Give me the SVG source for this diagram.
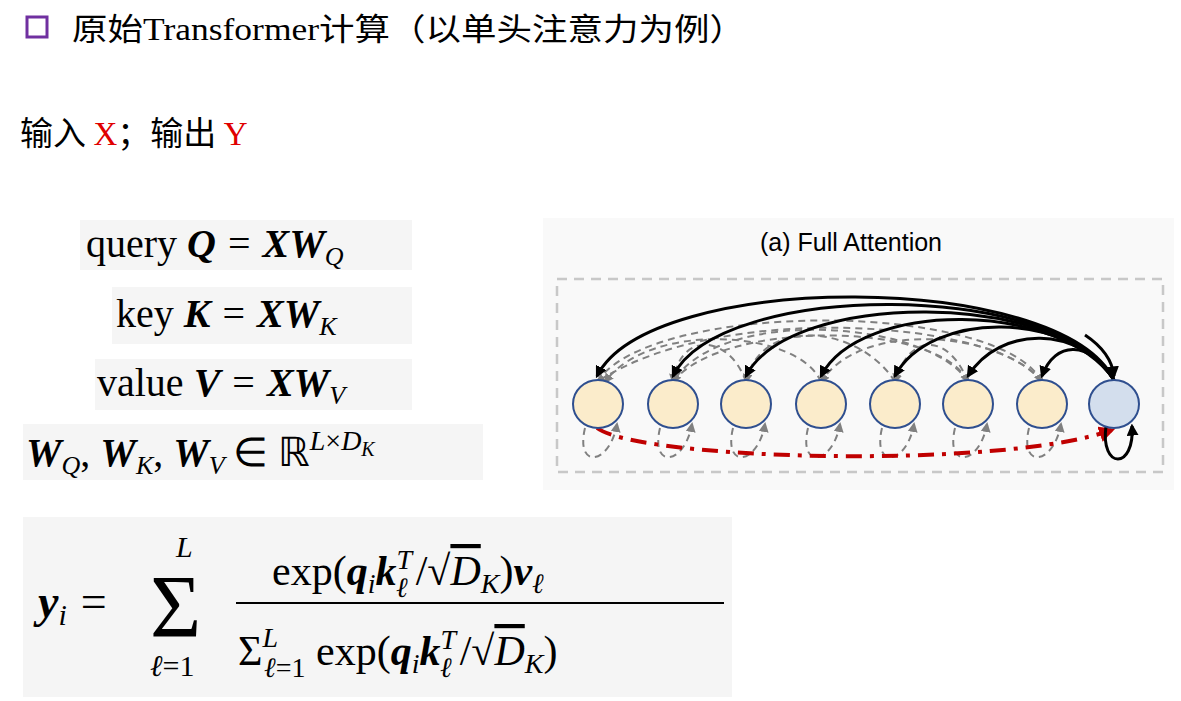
<svg xmlns="http://www.w3.org/2000/svg" width="1181" height="701" viewBox="0 0 1181 701">
<defs>
<style>
.cn{font-family:"Noto Sans CJK SC","Liberation Sans",sans-serif;font-size:31px;fill:#000}
.m{font-family:"Liberation Serif",serif;font-size:40px;fill:#000}
.bi{font-style:italic;font-weight:bold}
.it{font-style:italic}
.bg{fill:#f5f5f5}
.node{fill:#fbeccb;stroke:#2f4f8f;stroke-width:2}
.blk{fill:none;stroke:#000;stroke-width:3}
.gry{fill:none;stroke:#808080;stroke-width:2;stroke-dasharray:7 5}
</style>
<marker id="ab" viewBox="0 0 10 10" refX="8" refY="5" markerWidth="4" markerHeight="4" orient="auto"><path d="M0,0L10,5L0,10z" fill="#000"/></marker>
<marker id="ag" viewBox="0 0 10 10" refX="8" refY="5" markerWidth="5" markerHeight="5" orient="auto"><path d="M0,0L10,5L0,10z" fill="#808080"/></marker>
<marker id="ar" viewBox="0 0 10 10" refX="8" refY="5" markerWidth="4" markerHeight="4" orient="auto"><path d="M0,0L10,5L0,10z" fill="#c00000"/></marker>
</defs>
<rect width="1181" height="701" fill="#fff"/>
<rect x="27" y="17" width="20" height="20" fill="none" stroke="#7030a0" stroke-width="3"/>
<text x="72" y="40" class="cn" textLength="673" lengthAdjust="spacingAndGlyphs">原始<tspan font-family="Liberation Serif">Transformer</tspan>计算（以单头注意力为例）</text>
<text x="20" y="145" class="cn" style="font-size:33px">输入 <tspan fill="#e00000" font-family="Liberation Serif">X</tspan>；输出 <tspan fill="#e00000" font-family="Liberation Serif">Y</tspan></text>

<g id="eqs">
<rect x="80" y="220" width="332" height="50" class="bg"/>
<text x="86" y="257" class="m">query <tspan class="bi">Q</tspan><tspan dx="12">=</tspan><tspan class="bi" dx="12">XW</tspan><tspan class="it" font-size="26" dy="8">Q</tspan></text>
<rect x="112" y="287" width="300" height="57" class="bg"/>
<text x="116" y="327" class="m">key <tspan class="bi">K</tspan><tspan dx="12">=</tspan><tspan class="bi" dx="12">XW</tspan><tspan class="it" font-size="26" dy="8">K</tspan></text>
<rect x="95" y="359" width="317" height="51" class="bg"/>
<text x="97" y="396" class="m">value <tspan class="bi">V</tspan><tspan dx="12">=</tspan><tspan class="bi" dx="12">XW</tspan><tspan class="it" font-size="26" dy="8">V</tspan></text>
<rect x="23" y="424" width="460" height="56" class="bg"/>
<text x="26" y="466" class="m"><tspan class="bi">W</tspan><tspan class="it" font-size="26" dy="8">Q</tspan><tspan dy="-8">, </tspan><tspan class="bi">W</tspan><tspan class="it" font-size="26" dy="8">K</tspan><tspan dy="-8">, </tspan><tspan class="bi">W</tspan><tspan class="it" font-size="26" dy="8">V</tspan><tspan dy="-8" dx="8">∈ ℝ</tspan><tspan class="it" font-size="28" dy="-16">L</tspan><tspan font-size="28">×</tspan><tspan class="it" font-size="28">D</tspan><tspan class="it" font-size="20" dy="6">K</tspan></text>
</g>

<g id="formula">
<rect x="23" y="517" width="709" height="180" class="bg"/>
<text x="38" y="617" class="m" style="font-size:46px"><tspan class="bi">y</tspan><tspan class="it" font-size="30" dy="8">i</tspan><tspan dy="-8" dx="14">=</tspan></text>
<text x="150" y="636" class="m" style="font-size:88px">Σ</text>
<text x="176" y="557" class="m it" style="font-size:30px">L</text>
<text x="150" y="676" class="m" style="font-size:30px"><tspan class="it">ℓ</tspan>=1</text>
<text x="272" y="585" class="m" style="font-size:42px">exp(<tspan class="bi">q</tspan><tspan class="it" font-size="28" dy="8">i</tspan><tspan class="bi" dy="-8">k</tspan><tspan class="it" font-size="28" dy="-16">T</tspan><tspan class="it" font-size="28" dx="-16" dy="28">ℓ</tspan><tspan dy="-12" dx="8">/√</tspan><tspan class="it" text-decoration="overline">D</tspan><tspan class="it" font-size="28" dy="8">K</tspan><tspan dy="-8">)</tspan><tspan class="bi">v</tspan><tspan class="it" font-size="28" dy="8">ℓ</tspan></text>
<line x1="236" y1="603" x2="724" y2="603" stroke="#000" stroke-width="2"/>
<text x="238" y="665" class="m" style="font-size:42px">Σ<tspan class="it" font-size="28" dy="-18">L</tspan><tspan font-size="28" dx="-14" dy="30"><tspan class="it">ℓ</tspan>=1</tspan><tspan dy="-12"> exp(</tspan><tspan class="bi">q</tspan><tspan class="it" font-size="28" dy="8">i</tspan><tspan class="bi" dy="-8">k</tspan><tspan class="it" font-size="28" dy="-16">T</tspan><tspan class="it" font-size="28" dx="-16" dy="28">ℓ</tspan><tspan dy="-12" dx="8">/√</tspan><tspan class="it" text-decoration="overline">D</tspan><tspan class="it" font-size="28" dy="8">K</tspan><tspan dy="-8">)</tspan></text>
</g>

<g id="panel">
<rect x="543" y="218" width="631" height="272" fill="#f9f9f9"/>
<text x="851" y="251" font-family="Liberation Sans,Arial,sans-serif" font-size="25" text-anchor="middle">(a) Full Attention</text>
<rect x="557" y="279" width="606" height="193" fill="none" stroke="#c8c8c8" stroke-width="2.5" stroke-dasharray="10 7"/>
</g>

<g id="connectors">
<path class="gry" d="M1042,382 C1000,320 720,300 597,382" marker-end="url(#ag)"/>
<path class="gry" d="M968,382 C930,320 720,305 673,382" marker-end="url(#ag)"/>
<path class="gry" d="M895,382 C860,325 760,315 746,382" marker-end="url(#ag)"/>
<path class="gry" d="M1042,382 C1000,330 860,320 821,382" marker-end="url(#ag)"/>
<path class="gry" d="M968,382 C950,335 910,330 895,382" marker-end="url(#ag)"/>
<path class="gry" d="M821,382 C800,330 650,320 605,382" marker-end="url(#ag)"/>
<path class="gry" d="M746,382 C730,335 680,330 673,382" marker-end="url(#ag)"/>
<path class="gry" d="M597,382 C650,300 1000,300 1042,382" marker-end="url(#ag)"/>
<path class="gry" d="M673,382 C720,320 940,320 968,382" marker-end="url(#ag)"/>
<path class="blk" d="M1114,380 C1060,270 650,270 597,376" marker-end="url(#ab)"/>
<path class="blk" d="M1114,380 C1060,280 720,280 673,376" marker-end="url(#ab)"/>
<path class="blk" d="M1114,380 C1060,290 790,290 746,376" marker-end="url(#ab)"/>
<path class="blk" d="M1114,380 C1060,300 860,300 821,376" marker-end="url(#ab)"/>
<path class="blk" d="M1114,380 C1070,310 930,310 895,376" marker-end="url(#ab)"/>
<path class="blk" d="M1114,380 C1080,325 1000,325 968,376" marker-end="url(#ab)"/>
<path class="blk" d="M1114,380 C1090,340 1055,340 1042,376" marker-end="url(#ab)"/>
<path class="blk" d="M1085,335 C1100,345 1112,358 1114,376" marker-end="url(#ab)"/>
<path class="gry" d="M585,428 C575,470 610,465 617,424" marker-end="url(#ag)"/>
<path class="gry" d="M660,428 C650,470 685,465 692,424" marker-end="url(#ag)"/>
<path class="gry" d="M733,428 C723,470 758,465 765,424" marker-end="url(#ag)"/>
<path class="gry" d="M808,428 C798,470 833,465 840,424" marker-end="url(#ag)"/>
<path class="gry" d="M882,428 C872,470 907,465 914,424" marker-end="url(#ag)"/>
<path class="gry" d="M955,428 C945,470 980,465 987,424" marker-end="url(#ag)"/>
<path class="gry" d="M1029,428 C1019,470 1054,465 1061,424" marker-end="url(#ag)"/>
<path d="M597,428 C640,460 1000,470 1112,430" fill="none" stroke="#c00000" stroke-width="4" stroke-dasharray="16 8 4 8" marker-end="url(#ar)"/>
<path class="blk" stroke-width="2.5" d="M1106,426 C1100,470 1135,470 1132,426" marker-end="url(#ab)"/>
</g>

<g id="nodes">
<ellipse id="n1" cx="598" cy="404" rx="25" ry="24" class="node"/>
<ellipse id="n2" cx="673" cy="404" rx="25" ry="24" class="node"/>
<ellipse id="n3" cx="746" cy="404" rx="25" ry="24" class="node"/>
<ellipse id="n4" cx="821" cy="404" rx="25" ry="24" class="node"/>
<ellipse id="n5" cx="895" cy="404" rx="25" ry="24" class="node"/>
<ellipse id="n6" cx="968" cy="404" rx="25" ry="24" class="node"/>
<ellipse id="n7" cx="1042" cy="404" rx="25" ry="24" class="node"/>
<ellipse id="n8" cx="1114" cy="404" rx="25" ry="24" fill="#d3deed" stroke="#2f4f8f" stroke-width="2"/>
</g>
</svg>
